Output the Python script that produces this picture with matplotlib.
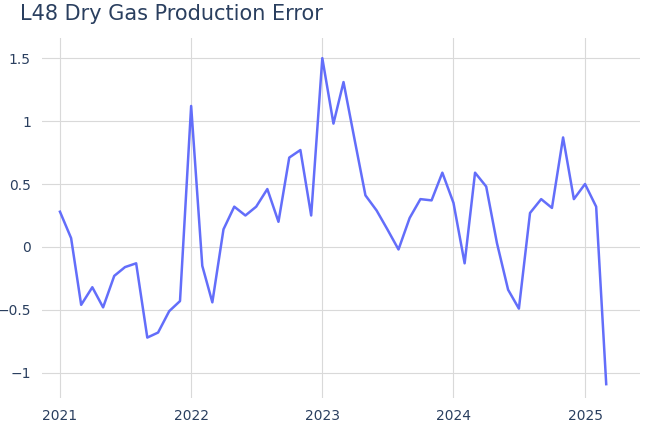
import matplotlib
matplotlib.use("Agg")
import matplotlib.pyplot as plt
import pandas as pd

dates = pd.date_range("2021-01-01", "2025-03-01", freq="MS")
values = [0.28, 0.07, -0.46, -0.32, -0.48, -0.23, -0.16, -0.13, -0.72, -0.68, -0.51, -0.43,
          1.12, -0.15, -0.44, 0.14, 0.32, 0.25, 0.32, 0.46, 0.20, 0.71, 0.77, 0.25,
          1.50, 0.98, 1.31, 0.85, 0.41, 0.29, 0.14, -0.02, 0.23, 0.38, 0.37, 0.59,
          0.35, -0.13, 0.59, 0.48, 0.03, -0.34, -0.49, 0.27, 0.38, 0.31, 0.87, 0.38,
          0.50, 0.32, -1.09]
yticks = [-1, -0.5, 0, 0.5, 1, 1.5]
ytick_labels = ["\u22121", "\u22120.5", "0", "0.5", "1", "1.5"]
xtick_years = ["2021", "2022", "2023", "2024", "2025"]

fig = plt.figure(figsize=(6.48, 4.46), dpi=100)
ax = fig.add_axes([42/648, 48/446, 598/648, 360/446])
ax.plot(dates, values, color="#636efa", lw=1.8)
ax.set_xlim(pd.Timestamp("2021-01-01") - pd.Timedelta(days=50),
            pd.Timestamp("2025-01-01") + pd.Timedelta(days=153))
ax.set_ylim(-1.2, 1.66)
ax.set_yticks(yticks)
ax.set_yticklabels(ytick_labels)
ax.set_xticks([pd.Timestamp(y + "-01-01") for y in xtick_years])
ax.set_xticklabels(xtick_years)
ax.grid(True, color="#d9d9d9", lw=0.8)
ax.set_axisbelow(True)
for s in ax.spines.values():
    s.set_visible(False)
ax.tick_params(length=0, labelsize=10, colors="#2a3f5f", pad=8)
ax.set_ylabel("%", fontsize=11, color="#2a3f5f", fontweight="bold", labelpad=4)
fig.text(20/648, 1 - 14/446, "L48 Dry Gas Production Error", fontsize=15, color="#2a3f5f", va="center")
fig.savefig("out.png", dpi=100, facecolor="white")
